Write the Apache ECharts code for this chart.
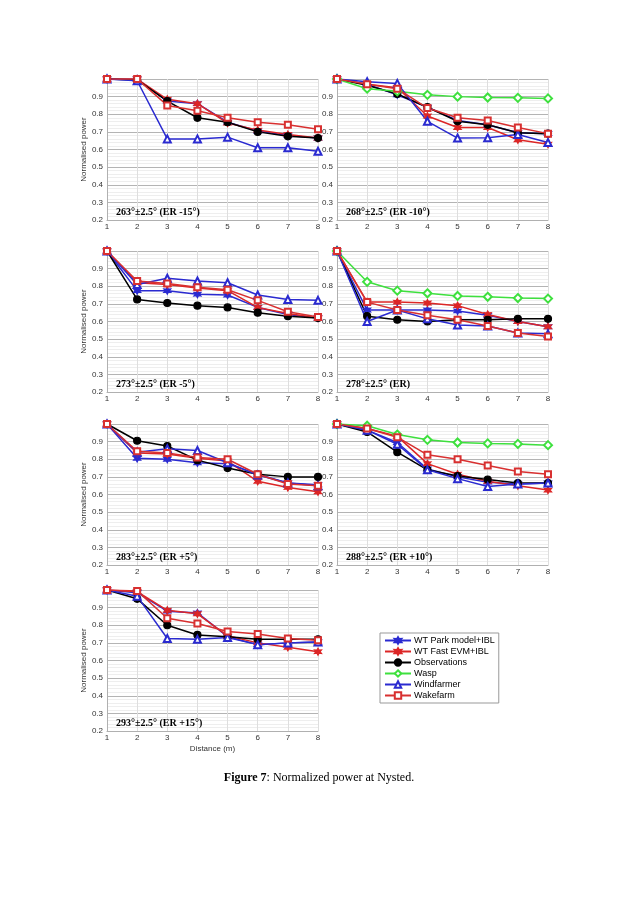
<!DOCTYPE html>
<html>
<head>
<meta charset="utf-8">
<script src="https://cdn.jsdelivr.net/npm/echarts@6/dist/echarts.min.js"></script>
<style>
  html, body { margin: 0; padding: 0; background: #fff; }
  #chart { width: 638px; height: 903px; }
</style>
</head>
<body>
<div id="chart"></div>
<script>
// 距离（x轴）
const distances = ['1', '2', '3', '4', '5', '6', '7', '8']
const yTicks = [0.2, 1.0]

// 各子图标题（按 263,268,273,278,283,288,293 顺序）
const panelTitles = [
  '263°±2.5° (ER -15°)',
  '268°±2.5° (ER -10°)',
  '273°±2.5° (ER -5°)',
  '278°±2.5° (ER)',
  '283°±2.5° (ER +5°)',
  '288°±2.5° (ER +10°)',
  '293°±2.5° (ER +15°)'
]

// 每个模型一组，每行一个子图
const parkModel = [
  [1, 1.0, 0.875, 0.86, 0.755, 0.705, 0.68, 0.665],
  [1, 0.97, 0.91, 0.84, 0.765, 0.74, 0.695, 0.69],
  [1, 0.775, 0.775, 0.755, 0.75, 0.68, 0.64, 0.62],
  [1, 0.665, 0.665, 0.665, 0.66, 0.635, 0.60, 0.57],
  [1, 0.805, 0.80, 0.78, 0.775, 0.715, 0.665, 0.655],
  [1, 0.965, 0.895, 0.745, 0.70, 0.67, 0.66, 0.665],
  [1, 0.985, 0.88, 0.87, 0.735, 0.69, 0.70, 0.705]
]
const fastEvm = [
  [1, 1.0, 0.885, 0.86, 0.75, 0.71, 0.685, 0.665],
  [1, 0.97, 0.95, 0.79, 0.725, 0.725, 0.655, 0.63],
  [1, 0.82, 0.81, 0.79, 0.775, 0.68, 0.645, 0.62],
  [1, 0.71, 0.71, 0.705, 0.69, 0.64, 0.60, 0.57],
  [1, 0.835, 0.83, 0.805, 0.79, 0.675, 0.64, 0.615],
  [1, 0.975, 0.93, 0.775, 0.715, 0.675, 0.65, 0.625],
  [1, 0.99, 0.885, 0.865, 0.74, 0.70, 0.675, 0.65]
]
const observations = [
  [1, 0.995, 0.875, 0.78, 0.755, 0.70, 0.675, 0.665],
  [1, 0.965, 0.915, 0.84, 0.76, 0.74, 0.695, 0.69],
  [1, 0.725, 0.705, 0.69, 0.68, 0.65, 0.63, 0.62],
  [1, 0.63, 0.61, 0.60, 0.61, 0.61, 0.615, 0.615],
  [1, 0.905, 0.875, 0.795, 0.75, 0.715, 0.70, 0.70],
  [1, 0.955, 0.84, 0.74, 0.705, 0.685, 0.665, 0.665],
  [1, 0.95, 0.80, 0.745, 0.735, 0.72, 0.72, 0.72]
]
const wasp = [
  null,
  [1, 0.945, 0.93, 0.91, 0.90, 0.895, 0.893, 0.89],
  null,
  [1, 0.825, 0.775, 0.76, 0.745, 0.74, 0.733, 0.73],
  null,
  [1, 0.99, 0.94, 0.91, 0.895, 0.89, 0.887, 0.88],
  null
]
const windfarmer = [
  [1, 0.99, 0.66, 0.66, 0.67, 0.61, 0.61, 0.59],
  [1, 0.985, 0.975, 0.76, 0.665, 0.667, 0.685, 0.64],
  [1, 0.81, 0.845, 0.83, 0.82, 0.75, 0.725, 0.72],
  [1, 0.60, 0.665, 0.615, 0.58, 0.575, 0.535, 0.53],
  [1, 0.84, 0.86, 0.85, 0.78, 0.71, 0.665, 0.65],
  [1, 0.965, 0.885, 0.74, 0.69, 0.645, 0.66, 0.665],
  [1, 0.965, 0.725, 0.72, 0.73, 0.69, 0.70, 0.705]
]
const wakefarm = [
  [1, 1.0, 0.85, 0.82, 0.78, 0.755, 0.74, 0.715],
  [1, 0.97, 0.945, 0.835, 0.78, 0.765, 0.725, 0.69],
  [1, 0.83, 0.815, 0.795, 0.78, 0.72, 0.655, 0.625],
  [1, 0.71, 0.665, 0.635, 0.61, 0.575, 0.535, 0.515],
  [1, 0.845, 0.835, 0.81, 0.80, 0.715, 0.66, 0.65],
  [1, 0.975, 0.925, 0.825, 0.80, 0.765, 0.73, 0.715],
  [1, 0.995, 0.84, 0.81, 0.765, 0.75, 0.725, 0.715]
]

const starPath = 'path://M0,-10 L2.6,-4.5 L8.7,-5 L5.2,0 L8.7,5 L2.6,4.5 L0,10 L-2.6,4.5 L-8.7,5 L-5.2,0 L-8.7,-5 L-2.6,-4.5 Z'

const models = [
  { name: 'WT Park model+IBL', data: parkModel, color: '#2a2ad0', symbol: starPath, size: 7 },
  { name: 'WT Fast EVM+IBL', data: fastEvm, color: '#dc2626', symbol: starPath, size: 7 },
  { name: 'Observations', data: observations, color: '#000000', symbol: 'circle', size: 7 },
  { name: 'Wasp', data: wasp, color: '#3ee03e', symbol: 'emptyDiamond', size: 8 },
  { name: 'Windfarmer', data: windfarmer, color: '#2a2ad0', symbol: 'emptyTriangle', size: 7 },
  { name: 'Wakefarm', data: wakefarm, color: '#d83030', symbol: 'emptyRect', size: 6 }
]

const colLeft = [107, 337]
const rowTop = [79, 251, 424, 590]
const plotW = 211
const plotH = 141

const grids = []
const xAxes = []
const yAxes = []
const titles = []
const series = []

panelTitles.forEach((t, i) => {
  const col = i % 2
  const row = Math.floor(i / 2)
  const left = colLeft[col]
  const top = rowTop[row]
  grids.push({ left, top, width: plotW, height: plotH })
  xAxes.push({
    type: 'category',
    gridIndex: i,
    data: distances,
    boundaryGap: false,
    name: i === 6 ? 'Distance (m)' : '',
    nameLocation: 'middle',
    nameGap: 14,
    nameTextStyle: { fontFamily: 'Liberation Sans', fontSize: 8, color: '#333' },
    axisTick: { show: false },
    axisLine: { show: true, lineStyle: { color: '#b0b0b0' } },
    axisLabel: { fontFamily: 'Liberation Sans', fontSize: 8, color: '#333', margin: 3 },
    splitLine: { show: true, lineStyle: { color: '#dedede' } }
  })
  yAxes.push({
    type: 'value',
    gridIndex: i,
    min: yTicks[0],
    max: yTicks[1],
    interval: 0.1,
    name: col === 0 ? 'Normalised power' : '',
    nameLocation: 'middle',
    nameGap: 18,
    nameTextStyle: { fontFamily: 'Liberation Sans', fontSize: 8, color: '#333' },
    axisTick: { show: false },
    axisLine: { show: true, lineStyle: { color: '#b0b0b0' } },
    axisLabel: {
      fontFamily: 'Liberation Sans',
      fontSize: 8,
      color: '#333',
      margin: 4,
      formatter (v) { return v > 0.99 ? '' : v.toFixed(1) }
    },
    splitLine: { show: true, lineStyle: { color: '#b4b4b4' } },
    minorTick: { show: false, splitNumber: 5 },
    minorSplitLine: { show: true, lineStyle: { color: '#eeeeee' } }
  })
  titles.push({
    text: t,
    left: left + 4,
    top: top + plotH - 18,
    textStyle: { fontFamily: 'Liberation Serif', fontSize: 10, fontWeight: 'bold', color: '#000' }
  })
  models.forEach(m => {
    if (!m.data[i]) return
    series.push({
      name: m.name,
      type: 'line',
      xAxisIndex: i,
      yAxisIndex: i,
      data: m.data[i],
      symbol: m.symbol,
      symbolSize: m.size,
      showAllSymbol: true,
      lineStyle: { color: m.color, width: 1.5 },
      itemStyle: { color: m.color, borderColor: m.color, borderWidth: 1.2 },
      animation: false
    })
  })
})

titles.push({
  text: '{b|Figure 7}: Normalized power at Nysted.',
  left: 'center',
  top: 767,
  textStyle: {
    fontFamily: 'Liberation Serif',
    fontSize: 12,
    fontWeight: 'normal',
    color: '#000',
    rich: {
      b: { fontFamily: 'Liberation Serif', fontSize: 12, fontWeight: 'bold', color: '#000' }
    }
  }
})

const option = {
  backgroundColor: '#fff',
  animation: false,
  title: titles,
  grid: grids,
  xAxis: xAxes,
  yAxis: yAxes,
  legend: {
    orient: 'vertical',
    left: 380,
    top: 633,
    itemGap: 2,
    itemWidth: 26,
    itemHeight: 8,
    padding: [3, 4, 3, 4],
    borderColor: '#999',
    borderWidth: 1,
    backgroundColor: '#fff',
    textStyle: { fontFamily: 'Liberation Sans', fontSize: 9, color: '#000', padding: [0, 0, 0, -2] },
    data: models.map(m => m.name)
  },
  series
}

const chart = echarts.init(document.getElementById('chart'))
chart.setOption(option, true)
</script>
</body>
</html>
